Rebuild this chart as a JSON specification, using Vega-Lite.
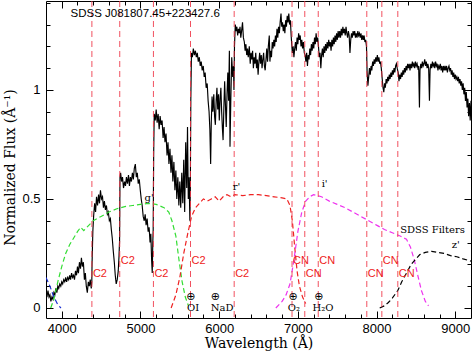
{
"$schema": "https://vega.github.io/schema/vega-lite/v6.json",
"width": 425, "height": 317,
"autosize": {"type": "none"},
"padding": {"left": 46, "top": 1, "right": 3, "bottom": 33},
"background": "white",
"config": {
 "view": {"stroke": "black", "strokeWidth": 1},
 "axis": {"grid": false, "domain": false, "tickColor": "black", "tickWidth": 1, "labelFont": "Liberation Sans", "labelFontSize": 13, "labelColor": "black", "titleFont": "DejaVu Serif", "titleFontSize": 14, "titleFontWeight": "normal", "titleColor": "black", "labelFlush": false, "labelOverlap": false}
},
"resolve": {"axis": {"x": "independent", "y": "independent"}},
"datasets": {
 "spec": [
  {"w":3800,"f":0.07},{"w":3812,"f":0.05},{"w":3825,"f":0.08},{"w":3838,"f":0.05},{"w":3850,"f":0.06},{"w":3862,"f":0.03},{"w":3875,"f":0.05},{"w":3888,"f":0.04},{"w":3900,"f":0.07},{"w":3912,"f":0.06},{"w":3925,"f":0.09},{"w":3938,"f":0.07},{"w":3950,"f":0.10},{"w":3962,"f":0.09},{"w":3975,"f":0.11},{"w":3988,"f":0.10},{"w":4000,"f":0.12},{"w":4012,"f":0.11},{"w":4025,"f":0.13},{"w":4038,"f":0.12},{"w":4050,"f":0.14},{"w":4062,"f":0.12},{"w":4075,"f":0.14},{"w":4088,"f":0.13},{"w":4100,"f":0.15},{"w":4112,"f":0.13},{"w":4125,"f":0.16},{"w":4138,"f":0.14},{"w":4150,"f":0.15},{"w":4162,"f":0.13},{"w":4175,"f":0.17},{"w":4188,"f":0.15},{"w":4200,"f":0.19},{"w":4212,"f":0.16},{"w":4225,"f":0.21},{"w":4238,"f":0.18},{"w":4250,"f":0.23},{"w":4262,"f":0.19},{"w":4275,"f":0.21},{"w":4288,"f":0.13},{"w":4300,"f":0.16},{"w":4312,"f":0.10},{"w":4325,"f":0.07},{"w":4338,"f":0.12},{"w":4350,"f":0.10},{"w":4362,"f":0.13},{"w":4375,"f":0.09},{"w":4382,"f":0.12},
  {"w":4385,"f":0.20},{"w":4395,"f":0.35},{"w":4405,"f":0.42},{"w":4418,"f":0.48},{"w":4430,"f":0.44},{"w":4442,"f":0.51},{"w":4455,"f":0.47},{"w":4468,"f":0.52},{"w":4480,"f":0.48},{"w":4492,"f":0.54},{"w":4505,"f":0.50},{"w":4518,"f":0.51},{"w":4530,"f":0.46},{"w":4542,"f":0.49},{"w":4555,"f":0.45},{"w":4568,"f":0.47},{"w":4580,"f":0.43},{"w":4592,"f":0.44},{"w":4605,"f":0.40},{"w":4618,"f":0.41},{"w":4630,"f":0.36},{"w":4642,"f":0.32},{"w":4655,"f":0.26},{"w":4668,"f":0.21},{"w":4680,"f":0.15},{"w":4692,"f":0.11},{"w":4705,"f":0.13},{"w":4718,"f":0.17},{"w":4728,"f":0.24},{"w":4735,"f":0.31},
  {"w":4740,"f":0.60},{"w":4748,"f":0.62},{"w":4760,"f":0.58},{"w":4772,"f":0.60},{"w":4785,"f":0.55},{"w":4798,"f":0.58},{"w":4810,"f":0.56},{"w":4822,"f":0.60},{"w":4835,"f":0.57},{"w":4848,"f":0.61},{"w":4860,"f":0.56},{"w":4872,"f":0.60},{"w":4885,"f":0.58},{"w":4898,"f":0.62},{"w":4910,"f":0.59},{"w":4922,"f":0.64},{"w":4935,"f":0.66},{"w":4948,"f":0.60},{"w":4960,"f":0.62},{"w":4972,"f":0.57},{"w":4985,"f":0.59},{"w":4998,"f":0.54},{"w":5010,"f":0.50},{"w":5022,"f":0.47},{"w":5035,"f":0.42},{"w":5048,"f":0.40},{"w":5060,"f":0.43},{"w":5072,"f":0.38},{"w":5085,"f":0.41},{"w":5098,"f":0.35},{"w":5110,"f":0.37},{"w":5122,"f":0.30},{"w":5132,"f":0.34},{"w":5142,"f":0.22},{"w":5150,"f":0.16},{"w":5157,"f":0.30},{"w":5162,"f":0.36},
  {"w":5168,"f":0.70},{"w":5175,"f":0.89},{"w":5188,"f":0.86},{"w":5200,"f":0.91},{"w":5212,"f":0.85},{"w":5225,"f":0.89},{"w":5238,"f":0.82},{"w":5250,"f":0.88},{"w":5262,"f":0.84},{"w":5275,"f":0.86},{"w":5288,"f":0.78},{"w":5300,"f":0.83},{"w":5312,"f":0.76},{"w":5325,"f":0.80},{"w":5338,"f":0.70},{"w":5350,"f":0.76},{"w":5362,"f":0.66},{"w":5375,"f":0.73},{"w":5388,"f":0.62},{"w":5400,"f":0.70},{"w":5412,"f":0.58},{"w":5425,"f":0.67},{"w":5438,"f":0.54},{"w":5450,"f":0.63},{"w":5462,"f":0.50},{"w":5475,"f":0.60},{"w":5488,"f":0.47},{"w":5500,"f":0.58},{"w":5512,"f":0.46},{"w":5525,"f":0.62},{"w":5538,"f":0.48},{"w":5550,"f":0.68},{"w":5562,"f":0.44},{"w":5575,"f":0.76},{"w":5588,"f":0.55},{"w":5598,"f":0.83},{"w":5608,"f":0.50},{"w":5618,"f":0.60},{"w":5628,"f":0.40},{"w":5634,"f":0.55},
  {"w":5640,"f":0.95},{"w":5648,"f":1.17},{"w":5660,"f":1.15},{"w":5672,"f":1.19},{"w":5685,"f":1.16},{"w":5698,"f":1.18},{"w":5710,"f":1.15},{"w":5722,"f":1.17},{"w":5735,"f":1.13},{"w":5748,"f":1.15},{"w":5760,"f":1.11},{"w":5772,"f":1.13},{"w":5785,"f":1.09},{"w":5798,"f":1.11},{"w":5810,"f":1.06},{"w":5822,"f":1.08},{"w":5835,"f":1.01},{"w":5848,"f":1.03},{"w":5860,"f":0.95},{"w":5872,"f":0.90},{"w":5882,"f":0.82},{"w":5892,"f":0.66},{"w":5900,"f":0.85},{"w":5910,"f":0.97},{"w":5920,"f":0.90},{"w":5932,"f":0.98},{"w":5942,"f":0.88},{"w":5952,"f":0.84},{"w":5962,"f":0.95},{"w":5972,"f":1.01},{"w":5982,"f":0.91},{"w":5992,"f":0.98},{"w":6002,"f":0.86},{"w":6012,"f":0.96},{"w":6022,"f":1.01},{"w":6032,"f":0.90},{"w":6042,"f":0.82},{"w":6050,"f":0.77},{"w":6060,"f":0.92},{"w":6070,"f":1.04},{"w":6080,"f":0.93},{"w":6090,"f":0.83},{"w":6100,"f":0.98},{"w":6110,"f":1.08},{"w":6120,"f":0.95},{"w":6130,"f":1.18},{"w":6138,"f":0.74},{"w":6148,"f":0.95},{"w":6160,"f":1.15},{"w":6172,"f":1.06},{"w":6182,"f":1.11},{"w":6188,"f":1.00},
  {"w":6195,"f":1.20},{"w":6205,"f":1.30},{"w":6215,"f":1.27},{"w":6225,"f":1.29},{"w":6235,"f":1.25},{"w":6245,"f":1.28},{"w":6255,"f":1.26},{"w":6265,"f":1.29},{"w":6275,"f":1.24},{"w":6285,"f":1.27},{"w":6297,"f":1.31},{"w":6308,"f":1.24},{"w":6320,"f":1.22},{"w":6330,"f":1.18},{"w":6340,"f":1.21},{"w":6350,"f":1.16},{"w":6360,"f":1.19},{"w":6370,"f":1.15},{"w":6383,"f":1.20},{"w":6395,"f":1.12},{"w":6405,"f":1.17},{"w":6415,"f":1.14},{"w":6425,"f":1.18},{"w":6435,"f":1.10},{"w":6445,"f":1.15},{"w":6455,"f":1.12},{"w":6465,"f":1.17},{"w":6475,"f":1.10},{"w":6485,"f":1.14},{"w":6495,"f":1.07},{"w":6505,"f":1.13},{"w":6515,"f":1.17},{"w":6525,"f":1.12},{"w":6535,"f":1.16},{"w":6545,"f":1.10},{"w":6555,"f":1.14},{"w":6565,"f":1.17},{"w":6575,"f":1.11},{"w":6585,"f":1.09},{"w":6595,"f":1.14},{"w":6605,"f":1.19},{"w":6615,"f":1.13},{"w":6625,"f":1.20},{"w":6637,"f":1.25},{"w":6645,"f":1.13},{"w":6655,"f":1.18},{"w":6665,"f":1.15},{"w":6675,"f":1.22},{"w":6685,"f":1.19},{"w":6695,"f":1.23},{"w":6705,"f":1.20},{"w":6715,"f":1.25},{"w":6725,"f":1.22},{"w":6735,"f":1.28},{"w":6745,"f":1.24},{"w":6755,"f":1.29},{"w":6765,"f":1.26},{"w":6775,"f":1.31},{"w":6786,"f":1.35},{"w":6795,"f":1.29},{"w":6805,"f":1.31},{"w":6815,"f":1.27},{"w":6825,"f":1.30},{"w":6835,"f":1.26},{"w":6845,"f":1.32},{"w":6855,"f":1.29},{"w":6865,"f":1.34},{"w":6875,"f":1.31},{"w":6885,"f":1.35},{"w":6895,"f":1.30},{"w":6905,"f":1.32},{"w":6915,"f":1.25},{"w":6922,"f":1.21},
  {"w":6930,"f":1.17},{"w":6940,"f":1.20},{"w":6950,"f":1.15},{"w":6960,"f":1.19},{"w":6970,"f":1.22},{"w":6980,"f":1.18},{"w":6990,"f":1.24},{"w":7000,"f":1.21},{"w":7010,"f":1.26},{"w":7020,"f":1.23},{"w":7030,"f":1.25},{"w":7040,"f":1.20},{"w":7050,"f":1.23},{"w":7060,"f":1.19},{"w":7070,"f":1.22},{"w":7082,"f":1.17},
  {"w":7092,"f":1.16},{"w":7102,"f":1.13},{"w":7112,"f":1.17},{"w":7122,"f":1.11},{"w":7132,"f":1.16},{"w":7142,"f":1.14},{"w":7152,"f":1.19},{"w":7162,"f":1.16},{"w":7172,"f":1.21},{"w":7182,"f":1.18},{"w":7192,"f":1.22},{"w":7202,"f":1.19},{"w":7212,"f":1.24},{"w":7222,"f":1.21},{"w":7232,"f":1.26},{"w":7242,"f":1.22},{"w":7252,"f":1.24},
  {"w":7262,"f":1.20},{"w":7272,"f":1.15},{"w":7282,"f":1.17},{"w":7292,"f":1.10},{"w":7302,"f":1.16},{"w":7312,"f":1.19},{"w":7322,"f":1.15},{"w":7332,"f":1.20},{"w":7342,"f":1.17},{"w":7352,"f":1.21},{"w":7362,"f":1.18},{"w":7372,"f":1.22},{"w":7382,"f":1.19},{"w":7392,"f":1.23},{"w":7402,"f":1.20},{"w":7412,"f":1.22},{"w":7422,"f":1.18},{"w":7432,"f":1.23},{"w":7442,"f":1.20},{"w":7452,"f":1.24},{"w":7462,"f":1.21},{"w":7472,"f":1.25},{"w":7482,"f":1.22},{"w":7492,"f":1.26},{"w":7502,"f":1.23},{"w":7512,"f":1.27},{"w":7522,"f":1.24},{"w":7532,"f":1.27},{"w":7542,"f":1.24},{"w":7552,"f":1.28},{"w":7562,"f":1.25},{"w":7572,"f":1.29},{"w":7582,"f":1.26},{"w":7592,"f":1.28},{"w":7602,"f":1.25},{"w":7612,"f":1.29},{"w":7622,"f":1.26},{"w":7632,"f":1.24},{"w":7642,"f":1.27},{"w":7652,"f":1.25},{"w":7662,"f":1.17},{"w":7672,"f":1.23},{"w":7682,"f":1.26},{"w":7692,"f":1.24},{"w":7702,"f":1.27},{"w":7712,"f":1.25},{"w":7722,"f":1.27},{"w":7732,"f":1.24},{"w":7742,"f":1.26},{"w":7752,"f":1.24},{"w":7762,"f":1.27},{"w":7772,"f":1.25},{"w":7782,"f":1.26},{"w":7792,"f":1.24},{"w":7802,"f":1.26},{"w":7812,"f":1.23},{"w":7822,"f":1.25},{"w":7832,"f":1.23},{"w":7842,"f":1.25},{"w":7852,"f":1.22},{"w":7862,"f":1.23},{"w":7872,"f":1.20},
  {"w":7880,"f":1.08},{"w":7890,"f":1.02},{"w":7900,"f":1.06},{"w":7910,"f":1.10},{"w":7920,"f":1.07},{"w":7930,"f":1.11},{"w":7940,"f":1.09},{"w":7950,"f":1.13},{"w":7960,"f":1.11},{"w":7970,"f":1.14},{"w":7980,"f":1.12},{"w":7990,"f":1.15},{"w":8000,"f":1.13},{"w":8010,"f":1.16},{"w":8020,"f":1.13},{"w":8030,"f":1.15},{"w":8040,"f":1.12},{"w":8050,"f":1.13},{"w":8060,"f":1.10},
  {"w":8072,"f":1.05},{"w":8082,"f":1.01},{"w":8092,"f":0.99},{"w":8102,"f":1.03},{"w":8112,"f":1.01},{"w":8122,"f":1.05},{"w":8132,"f":1.03},{"w":8142,"f":1.06},{"w":8152,"f":1.04},{"w":8162,"f":1.07},{"w":8172,"f":1.05},{"w":8182,"f":1.08},{"w":8192,"f":1.06},{"w":8202,"f":1.09},{"w":8212,"f":1.07},{"w":8222,"f":1.10},{"w":8232,"f":1.08},{"w":8242,"f":1.11},{"w":8252,"f":1.12},{"w":8262,"f":1.10},
  {"w":8275,"f":1.08},{"w":8285,"f":1.04},{"w":8295,"f":1.07},{"w":8305,"f":1.05},{"w":8315,"f":1.08},{"w":8325,"f":1.06},{"w":8335,"f":1.09},{"w":8345,"f":1.07},{"w":8355,"f":1.10},{"w":8365,"f":1.08},{"w":8375,"f":1.11},{"w":8385,"f":1.09},{"w":8395,"f":1.12},{"w":8405,"f":1.10},{"w":8415,"f":1.12},{"w":8425,"f":1.09},{"w":8435,"f":1.12},{"w":8445,"f":1.10},{"w":8455,"f":1.13},{"w":8465,"f":1.11},{"w":8475,"f":1.12},{"w":8485,"f":1.10},{"w":8495,"f":1.13},{"w":8505,"f":1.11},{"w":8515,"f":1.12},{"w":8525,"f":1.10},{"w":8535,"f":1.11},{"w":8545,"f":0.92},{"w":8552,"f":1.09},{"w":8562,"f":1.12},{"w":8572,"f":1.10},{"w":8582,"f":1.13},{"w":8592,"f":1.11},{"w":8602,"f":1.12},{"w":8612,"f":1.14},{"w":8622,"f":1.11},{"w":8632,"f":1.13},{"w":8642,"f":1.10},{"w":8652,"f":1.12},{"w":8662,"f":1.10},{"w":8672,"f":0.95},{"w":8680,"f":1.09},{"w":8690,"f":1.12},{"w":8700,"f":1.10},{"w":8710,"f":1.13},{"w":8720,"f":1.11},{"w":8730,"f":1.12},{"w":8740,"f":1.10},{"w":8750,"f":1.13},{"w":8760,"f":1.11},{"w":8770,"f":1.12},{"w":8780,"f":1.09},{"w":8790,"f":1.11},{"w":8800,"f":1.10},{"w":8810,"f":1.12},{"w":8820,"f":1.09},{"w":8830,"f":1.11},{"w":8840,"f":1.08},{"w":8850,"f":1.11},{"w":8860,"f":1.09},{"w":8870,"f":1.11},{"w":8880,"f":1.09},{"w":8890,"f":1.11},{"w":8900,"f":1.08},{"w":8910,"f":1.10},{"w":8920,"f":1.11},{"w":8930,"f":1.09},{"w":8940,"f":1.10},{"w":8950,"f":1.07},{"w":8960,"f":1.09},{"w":8970,"f":1.06},{"w":8980,"f":1.08},{"w":8990,"f":1.05},{"w":9000,"f":1.07},{"w":9010,"f":1.05},{"w":9020,"f":1.06},{"w":9030,"f":1.04},{"w":9040,"f":1.06},{"w":9050,"f":1.03},{"w":9060,"f":1.05},{"w":9070,"f":1.02},{"w":9080,"f":1.04},{"w":9090,"f":1.00},{"w":9100,"f":1.03},{"w":9110,"f":0.98},{"w":9120,"f":1.01},{"w":9130,"f":0.95},{"w":9140,"f":0.99},{"w":9150,"f":0.92},{"w":9160,"f":0.96},{"w":9170,"f":0.88},{"w":9180,"f":0.94},{"w":9190,"f":0.86},{"w":9200,"f":0.95}
 ],
 "filt": [
  {"b":"u","w":3800,"t":0.14},{"b":"u","w":3850,"t":0.10},{"b":"u","w":3900,"t":0.05},{"b":"u","w":3950,"t":0.015},{"b":"u","w":3990,"t":0.0},
  {"b":"g","w":3860,"t":0.0},{"b":"g","w":3900,"t":0.04},{"b":"g","w":3950,"t":0.12},{"b":"g","w":4000,"t":0.19},{"b":"g","w":4050,"t":0.25},{"b":"g","w":4100,"t":0.29},{"b":"g","w":4150,"t":0.32},{"b":"g","w":4200,"t":0.35},{"b":"g","w":4240,"t":0.37},{"b":"g","w":4280,"t":0.355},{"b":"g","w":4320,"t":0.37},{"b":"g","w":4400,"t":0.40},{"b":"g","w":4500,"t":0.42},{"b":"g","w":4600,"t":0.44},{"b":"g","w":4700,"t":0.455},{"b":"g","w":4800,"t":0.465},{"b":"g","w":4900,"t":0.47},{"b":"g","w":5000,"t":0.475},{"b":"g","w":5100,"t":0.48},{"b":"g","w":5200,"t":0.475},{"b":"g","w":5300,"t":0.46},{"b":"g","w":5360,"t":0.44},{"b":"g","w":5400,"t":0.40},{"b":"g","w":5450,"t":0.33},{"b":"g","w":5490,"t":0.22},{"b":"g","w":5530,"t":0.12},{"b":"g","w":5570,"t":0.05},{"b":"g","w":5610,"t":0.01},
  {"b":"r","w":5390,"t":0.0},{"b":"r","w":5450,"t":0.06},{"b":"r","w":5500,"t":0.14},{"b":"r","w":5550,"t":0.25},{"b":"r","w":5600,"t":0.34},{"b":"r","w":5650,"t":0.42},{"b":"r","w":5700,"t":0.46},{"b":"r","w":5750,"t":0.48},{"b":"r","w":5800,"t":0.50},{"b":"r","w":5850,"t":0.49},{"b":"r","w":5900,"t":0.50},{"b":"r","w":5950,"t":0.51},{"b":"r","w":6000,"t":0.49},{"b":"r","w":6050,"t":0.51},{"b":"r","w":6100,"t":0.52},{"b":"r","w":6150,"t":0.51},{"b":"r","w":6200,"t":0.52},{"b":"r","w":6300,"t":0.515},{"b":"r","w":6400,"t":0.52},{"b":"r","w":6500,"t":0.52},{"b":"r","w":6600,"t":0.515},{"b":"r","w":6700,"t":0.51},{"b":"r","w":6800,"t":0.505},{"b":"r","w":6860,"t":0.50},{"b":"r","w":6900,"t":0.47},{"b":"r","w":6930,"t":0.40},{"b":"r","w":6960,"t":0.28},{"b":"r","w":6990,"t":0.17},{"b":"r","w":7020,"t":0.10},{"b":"r","w":7060,"t":0.05},{"b":"r","w":7100,"t":0.02},
  {"b":"i","w":6720,"t":0.0},{"b":"i","w":6800,"t":0.03},{"b":"i","w":6850,"t":0.06},{"b":"i","w":6900,"t":0.11},{"b":"i","w":6950,"t":0.22},{"b":"i","w":7000,"t":0.35},{"b":"i","w":7050,"t":0.44},{"b":"i","w":7100,"t":0.49},{"b":"i","w":7150,"t":0.51},{"b":"i","w":7200,"t":0.52},{"b":"i","w":7300,"t":0.51},{"b":"i","w":7400,"t":0.49},{"b":"i","w":7500,"t":0.475},{"b":"i","w":7600,"t":0.46},{"b":"i","w":7700,"t":0.44},{"b":"i","w":7800,"t":0.42},{"b":"i","w":7900,"t":0.40},{"b":"i","w":8000,"t":0.38},{"b":"i","w":8100,"t":0.36},{"b":"i","w":8200,"t":0.345},{"b":"i","w":8300,"t":0.33},{"b":"i","w":8380,"t":0.315},{"b":"i","w":8430,"t":0.28},{"b":"i","w":8480,"t":0.22},{"b":"i","w":8530,"t":0.14},{"b":"i","w":8570,"t":0.08},{"b":"i","w":8620,"t":0.03},{"b":"i","w":8660,"t":0.01},
  {"b":"z","w":8040,"t":0.0},{"b":"z","w":8100,"t":0.01},{"b":"z","w":8150,"t":0.025},{"b":"z","w":8200,"t":0.045},{"b":"z","w":8270,"t":0.08},{"b":"z","w":8320,"t":0.12},{"b":"z","w":8380,"t":0.16},{"b":"z","w":8440,"t":0.20},{"b":"z","w":8500,"t":0.225},{"b":"z","w":8550,"t":0.245},{"b":"z","w":8620,"t":0.255},{"b":"z","w":8700,"t":0.26},{"b":"z","w":8780,"t":0.255},{"b":"z","w":8860,"t":0.25},{"b":"z","w":8940,"t":0.24},{"b":"z","w":9020,"t":0.235},{"b":"z","w":9100,"t":0.225},{"b":"z","w":9200,"t":0.215}
 ],
 "bands": [
  {"w":4383,"y":0.156,"s":"C2"},{"w":4737,"y":0.216,"s":"C2"},{"w":5165,"y":0.156,"s":"C2"},{"w":5636,"y":0.216,"s":"C2"},{"w":6191,"y":0.156,"s":"C2"},
  {"w":6926,"y":0.216,"s":"CN"},{"w":7088,"y":0.156,"s":"CN"},{"w":7259,"y":0.216,"s":"CN"},{"w":7876,"y":0.156,"s":"CN"},{"w":8067,"y":0.216,"s":"CN"},{"w":8270,"y":0.156,"s":"CN"}
 ],
 "flab": [
  {"w":5110,"y":0.505,"s":"g'"},{"w":6220,"y":0.556,"s":"r'"},{"w":7340,"y":0.57,"s":"i'"},{"w":9007,"y":0.289,"s":"z'"},{"w":8711,"y":0.358,"s":"SDSS Filters"}
 ],
 "tsym": [
  {"w":5640,"y":0.049,"s":"⊕"},{"w":5953,"y":0.049,"s":"⊕"},{"w":6940,"y":0.049,"s":"⊕"},{"w":7267,"y":0.049,"s":"⊕"}
 ],
 "tlab": [
  {"w":5668,"y":0.0,"s":"OI"},{"w":6037,"y":0.0,"s":"NaD"},{"w":6950,"y":0.0,"s":"O₂"},{"w":7318,"y":0.0,"s":"H₂O"}
 ],
 "ttl": [
  {"w":5060,"y":1.349,"s":"SDSS J081807.45+223427.6"}
 ]
},
"layer": [
 {
  "data": {"name": "spec"},
  "mark": {"type": "line", "color": "black", "strokeWidth": 1.15, "clip": true},
  "encoding": {
   "x": {"field": "w", "type": "quantitative", "scale": {"domain": [3800, 9200], "nice": false, "zero": false},
    "axis": {"orient": "bottom", "values": [4000, 5000, 6000, 7000, 8000, 9000], "format": "d", "tickSize": -7, "labelPadding": 11, "title": "Wavelength (Å)", "titleY": 25, "titleBaseline": "middle"}},
   "y": {"field": "f", "type": "quantitative", "scale": {"domain": [-0.046, 1.408], "nice": false, "zero": false},
    "axis": {"orient": "left", "values": [0, 0.5, 1], "tickSize": -7, "labelPadding": 13, "labelExpr": "format(datum.value, '~g')", "title": "Normalized Flux (Å⁻¹)", "titleX": -36, "titleY": 166, "titleBaseline": "middle"}}
  }
 },
 {
  "data": {"name": "filt"},
  "mark": {"type": "line", "strokeDash": [5, 3], "strokeWidth": 1.2, "clip": true},
  "encoding": {
   "x": {"field": "w", "type": "quantitative", "scale": {"domain": [3800, 9200], "nice": false, "zero": false},
    "axis": {"orient": "bottom", "values": [4000,4200,4400,4600,4800,5000,5200,5400,5600,5800,6000,6200,6400,6600,6800,7000,7200,7400,7600,7800,8000,8200,8400,8600,8800,9000], "tickSize": -4, "labels": false, "title": null}},
   "y": {"field": "t", "type": "quantitative", "scale": {"domain": [-0.046, 1.408], "nice": false, "zero": false},
    "axis": {"orient": "left", "values": [0,0.1,0.2,0.3,0.4,0.5,0.6,0.7,0.8,0.9,1,1.1,1.2,1.3,1.4], "tickSize": -4, "labels": false, "title": null}},
   "color": {"field": "b", "type": "nominal", "scale": {"domain": ["u", "g", "r", "i", "z"], "range": ["#1a2fd0", "#33dd33", "#ee2222", "#ee33ee", "#000000"]}, "legend": null},
   "detail": {"field": "b"}
  }
 },
 {
  "data": {"name": "bands"},
  "mark": {"type": "rule", "color": "#ee3344", "strokeDash": [6, 4], "strokeWidth": 1, "opacity": 0.85},
  "encoding": {
   "x": {"field": "w", "type": "quantitative", "scale": {"domain": [3800, 9200], "nice": false, "zero": false},
    "axis": {"orient": "top", "values": [4000, 5000, 6000, 7000, 8000, 9000], "tickSize": -7, "labels": false, "title": null}}
  }
 },
 {
  "data": {"name": "bands"},
  "mark": {"type": "text", "color": "#ee2222", "font": "Liberation Sans", "fontSize": 11, "align": "left", "dx": 1, "baseline": "middle"},
  "encoding": {
   "x": {"field": "w", "type": "quantitative", "scale": {"domain": [3800, 9200], "nice": false, "zero": false},
    "axis": {"orient": "top", "values": [4000,4200,4400,4600,4800,5000,5200,5400,5600,5800,6000,6200,6400,6600,6800,7000,7200,7400,7600,7800,8000,8200,8400,8600,8800,9000], "tickSize": -4, "labels": false, "title": null}},
   "y": {"field": "y", "type": "quantitative", "scale": {"domain": [-0.046, 1.408], "nice": false, "zero": false},
    "axis": {"orient": "right", "values": [0, 0.5, 1], "tickSize": -7, "labels": false, "title": null}},
   "text": {"field": "s"}
  }
 },
 {
  "data": {"name": "flab"},
  "mark": {"type": "text", "color": "black", "font": "DejaVu Serif", "fontSize": 10, "align": "center", "baseline": "middle"},
  "encoding": {
   "x": {"field": "w", "type": "quantitative", "scale": {"domain": [3800, 9200], "nice": false, "zero": false}, "axis": null},
   "y": {"field": "y", "type": "quantitative", "scale": {"domain": [-0.046, 1.408], "nice": false, "zero": false},
    "axis": {"orient": "right", "values": [0,0.1,0.2,0.3,0.4,0.5,0.6,0.7,0.8,0.9,1,1.1,1.2,1.3,1.4], "tickSize": -4, "labels": false, "title": null}},
   "text": {"field": "s"}
  }
 },
 {
  "data": {"name": "tsym"},
  "mark": {"type": "text", "color": "black", "font": "DejaVu Sans", "fontSize": 11, "align": "center", "baseline": "middle"},
  "encoding": {
   "x": {"field": "w", "type": "quantitative", "scale": {"domain": [3800, 9200], "nice": false, "zero": false}, "axis": null},
   "y": {"field": "y", "type": "quantitative", "scale": {"domain": [-0.046, 1.408], "nice": false, "zero": false}, "axis": null},
   "text": {"field": "s"}
  }
 },
 {
  "data": {"name": "tlab"},
  "mark": {"type": "text", "color": "black", "font": "DejaVu Serif", "fontSize": 10, "align": "center", "baseline": "middle"},
  "encoding": {
   "x": {"field": "w", "type": "quantitative", "scale": {"domain": [3800, 9200], "nice": false, "zero": false}, "axis": null},
   "y": {"field": "y", "type": "quantitative", "scale": {"domain": [-0.046, 1.408], "nice": false, "zero": false}, "axis": null},
   "text": {"field": "s"}
  }
 },
 {
  "data": {"name": "ttl"},
  "mark": {"type": "text", "color": "black", "font": "Liberation Sans", "fontSize": 11.5, "align": "center", "baseline": "middle"},
  "encoding": {
   "x": {"field": "w", "type": "quantitative", "scale": {"domain": [3800, 9200], "nice": false, "zero": false}, "axis": null},
   "y": {"field": "y", "type": "quantitative", "scale": {"domain": [-0.046, 1.408], "nice": false, "zero": false}, "axis": null},
   "text": {"field": "s"}
  }
 }
]
}
